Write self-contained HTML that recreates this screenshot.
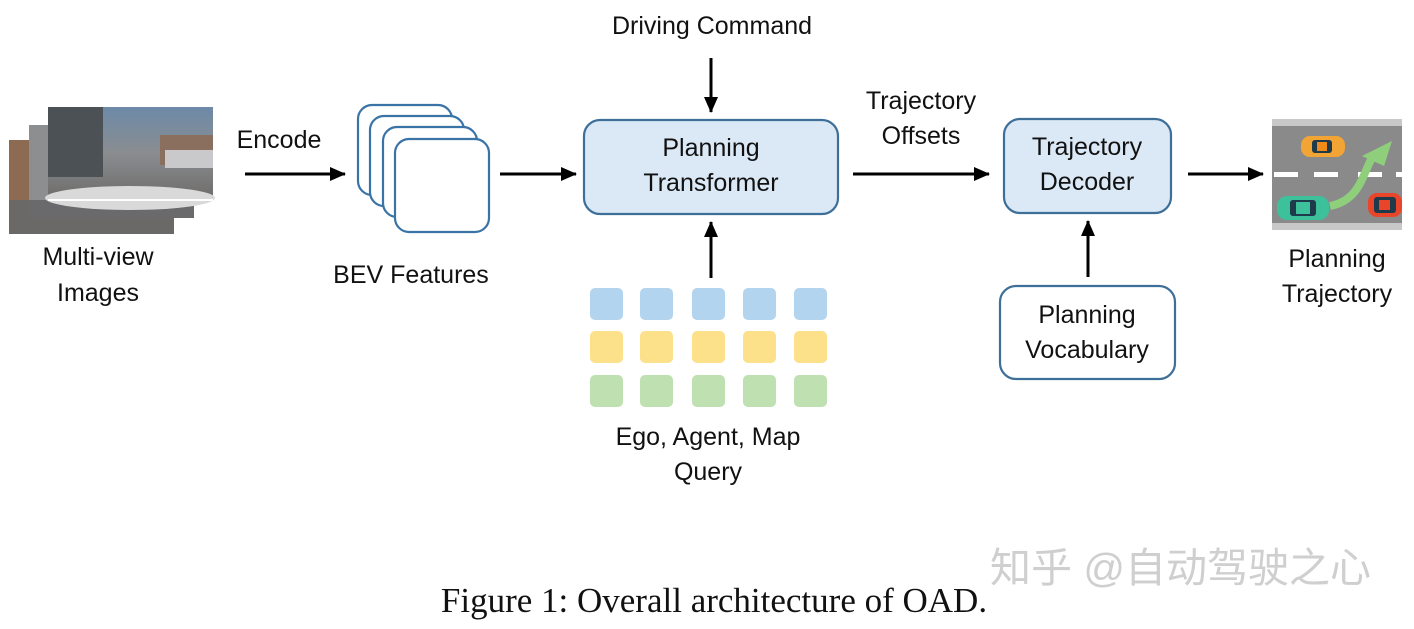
<!DOCTYPE html>
<html><head><meta charset="utf-8"><style>
body{margin:0;background:#fff;}
svg text{font-family:"Liberation Sans",sans-serif;fill:#111;}
</style></head><body>
<svg width="1414" height="624" viewBox="0 0 1414 624" xmlns="http://www.w3.org/2000/svg">
<defs>
<marker id="a" markerWidth="16" markerHeight="14" refX="15" refY="7" orient="auto" markerUnits="userSpaceOnUse" viewBox="0 0 16 14"><path d="M0,0L16,7L0,14z" fill="#000"/></marker>
<linearGradient id="sky" x1="0" y1="0" x2="0" y2="1"><stop offset="0" stop-color="#6d8aa8"/><stop offset="0.5" stop-color="#8a8d90"/><stop offset="1" stop-color="#6e6c6a"/></linearGradient>
</defs>
<!-- multi-view images -->
<rect x="9" y="140" width="165" height="94" fill="#7a7670"/>
<rect x="9" y="140" width="40" height="60" fill="#8d6a52"/>
<rect x="9" y="200" width="165" height="34" fill="#6b6967"/>
<rect x="29" y="125" width="165" height="93" fill="#8c8e90"/>
<rect x="29" y="200" width="165" height="18" fill="#6a6a6c"/>
<rect x="48" y="107" width="165" height="92" fill="url(#sky)"/>
<rect x="48" y="107" width="55" height="70" fill="#4c5156"/>
<rect x="160" y="135" width="53" height="30" fill="#8a6f5f"/>
<rect x="165" y="150" width="48" height="18" fill="#c9c9cb"/>
<ellipse cx="130" cy="198" rx="85" ry="12" fill="#d9d9da"/>
<rect x="48" y="199" width="165" height="2" fill="#fff"/>
<!-- encode -->
<text x="279" y="148" font-size="25" text-anchor="middle">Encode</text>
<line x1="245" y1="174" x2="345" y2="174" stroke="#000" stroke-width="3" marker-end="url(#a)"/>
<!-- BEV -->
<g fill="#fff" stroke="#3a73a6" stroke-width="2.2">
<rect x="358" y="105" width="94" height="90" rx="14"/>
<rect x="370" y="116" width="94" height="90" rx="14"/>
<rect x="383" y="127" width="94" height="90" rx="14"/>
<rect x="395" y="139" width="94" height="93" rx="14"/>
</g>
<text x="411" y="283" font-size="25" text-anchor="middle">BEV Features</text>
<text x="98" y="265" font-size="25" text-anchor="middle">Multi-view</text>
<text x="98" y="301" font-size="25" text-anchor="middle">Images</text>
<line x1="500" y1="174" x2="576" y2="174" stroke="#000" stroke-width="3" marker-end="url(#a)"/>
<!-- driving command -->
<text x="712" y="34" font-size="25" text-anchor="middle">Driving Command</text>
<line x1="711" y1="58" x2="711" y2="112" stroke="#000" stroke-width="3" marker-end="url(#a)"/>
<rect x="584" y="120" width="254" height="94" rx="16" fill="#dbe9f6" stroke="#3d6f99" stroke-width="2.2"/>
<text x="711" y="156" font-size="25" text-anchor="middle">Planning</text>
<text x="711" y="191" font-size="25" text-anchor="middle">Transformer</text>
<line x1="711" y1="278" x2="711" y2="222" stroke="#000" stroke-width="3" marker-end="url(#a)"/>
<!-- queries -->
<g>
<rect x="590" y="288" width="33" height="32" rx="5" fill="#b3d4ee"/><rect x="640" y="288" width="33" height="32" rx="5" fill="#b3d4ee"/><rect x="692" y="288" width="33" height="32" rx="5" fill="#b3d4ee"/><rect x="743" y="288" width="33" height="32" rx="5" fill="#b3d4ee"/><rect x="794" y="288" width="33" height="32" rx="5" fill="#b3d4ee"/>
<rect x="590" y="331" width="33" height="32" rx="5" fill="#fde08a"/><rect x="640" y="331" width="33" height="32" rx="5" fill="#fde08a"/><rect x="692" y="331" width="33" height="32" rx="5" fill="#fde08a"/><rect x="743" y="331" width="33" height="32" rx="5" fill="#fde08a"/><rect x="794" y="331" width="33" height="32" rx="5" fill="#fde08a"/>
<rect x="590" y="375" width="33" height="32" rx="5" fill="#bfe0b0"/><rect x="640" y="375" width="33" height="32" rx="5" fill="#bfe0b0"/><rect x="692" y="375" width="33" height="32" rx="5" fill="#bfe0b0"/><rect x="743" y="375" width="33" height="32" rx="5" fill="#bfe0b0"/><rect x="794" y="375" width="33" height="32" rx="5" fill="#bfe0b0"/>
</g>
<text x="708" y="445" font-size="25" text-anchor="middle">Ego, Agent, Map</text>
<text x="708" y="480" font-size="25" text-anchor="middle">Query</text>
<!-- offsets -->
<text x="921" y="109" font-size="25" text-anchor="middle">Trajectory</text>
<text x="921" y="144" font-size="25" text-anchor="middle">Offsets</text>
<line x1="853" y1="174" x2="989" y2="174" stroke="#000" stroke-width="3" marker-end="url(#a)"/>
<rect x="1004" y="119" width="167" height="94" rx="16" fill="#dbe9f6" stroke="#3d6f99" stroke-width="2.2"/>
<text x="1087" y="155" font-size="25" text-anchor="middle">Trajectory</text>
<text x="1087" y="190" font-size="25" text-anchor="middle">Decoder</text>
<line x1="1088" y1="277" x2="1088" y2="221" stroke="#000" stroke-width="3" marker-end="url(#a)"/>
<rect x="1000" y="286" width="175" height="93" rx="16" fill="#fff" stroke="#3d6f99" stroke-width="2.2"/>
<text x="1087" y="323" font-size="25" text-anchor="middle">Planning</text>
<text x="1087" y="358" font-size="25" text-anchor="middle">Vocabulary</text>
<line x1="1188" y1="174" x2="1263" y2="174" stroke="#000" stroke-width="3" marker-end="url(#a)"/>
<!-- road -->
<rect x="1272" y="119" width="130" height="111" fill="#8a8a8a"/>
<rect x="1272" y="119" width="130" height="7" fill="#c8c8c8"/>
<rect x="1272" y="223" width="130" height="7" fill="#c8c8c8"/>
<g fill="#fff"><rect x="1274" y="172" width="24" height="5"/><rect x="1314" y="172" width="24" height="5"/><rect x="1358" y="172" width="24" height="5"/><rect x="1396" y="172" width="6" height="5"/></g>
<path d="M1330,206 C1360,200 1362,175 1372,158" stroke="#8fcf7c" stroke-width="8" fill="none"/>
<path d="M1362,156 L1392,141 L1384,166 z" fill="#8fcf7c"/>
<rect x="1301" y="136" width="44" height="21" rx="9" fill="#f2a534"/><rect x="1312" y="140" width="20" height="13" rx="3" fill="#1f3a4a"/><rect x="1317" y="142" width="10" height="9" fill="#f28a1a"/>
<rect x="1277" y="196" width="52" height="24" rx="10" fill="#3cc19b"/><rect x="1290" y="200" width="26" height="16" rx="3" fill="#1f3a4a"/><rect x="1296" y="202" width="14" height="12" fill="#3cc19b"/>
<rect x="1368" y="193" width="34" height="24" rx="9" fill="#e8452a"/><rect x="1374" y="197" width="22" height="16" rx="3" fill="#1f3a4a"/><rect x="1379" y="200" width="11" height="10" fill="#e8452a"/>
<text x="1337" y="267" font-size="25" text-anchor="middle">Planning</text>
<text x="1337" y="302" font-size="25" text-anchor="middle">Trajectory</text>
<!-- watermark -->
<text x="990" y="582" font-size="41" style="fill:#cfcfcf;font-family:'Liberation Sans','Noto Sans CJK SC',sans-serif">知乎 @自动驾驶之心</text>
<!-- caption -->
<text x="714" y="612" font-size="35" text-anchor="middle" style="font-family:'Liberation Serif',serif">Figure 1: Overall architecture of OAD.</text>
</svg>
</body></html>
